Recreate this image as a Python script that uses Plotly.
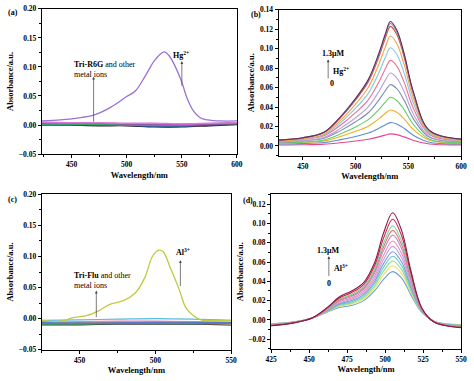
import plotly.graph_objects as go

# ---------------- data ----------------
# Panel (a)
a_hg_x = [423, 440, 455, 470, 485, 500, 508, 517, 526, 534, 539, 549, 555, 561, 567, 573, 585, 600]
a_hg_y = [0.007, 0.009, 0.012, 0.017, 0.030, 0.049, 0.059, 0.085, 0.113, 0.126, 0.118, 0.079, 0.045, 0.023, 0.012, 0.009, 0.007, 0.007]
a_ion_x = [423, 450, 475, 500, 525, 550, 575, 600]
a_ion_y = [
    [0.001, 0.000, -0.001, -0.001, -0.003, -0.003, -0.001, 0.001],
    [0.002, 0.001, 0.001, 0.000, -0.001, -0.002, 0.000, 0.002],
    [0.000, 0.001, 0.000, 0.000, -0.002, -0.002, 0.001, 0.003],
    [0.001, 0.001, 0.001, 0.000, -0.001, -0.001, 0.002, 0.004],
    [0.002, 0.002, 0.001, 0.001, 0.000, 0.000, 0.002, 0.003],
    [0.004, 0.003, 0.003, 0.002, 0.002, 0.001, 0.002, 0.003],
    [0.005, 0.004, 0.004, 0.003, 0.003, 0.002, 0.003, 0.004],
]
a_ion_colors = ["#222222", "#666666", "#333388", "#339999", "#33aa66", "#aa44bb", "#dd77dd"]

# Panel (b): Hg2+ titration
b_x = [427, 450, 470, 485, 500, 512, 522, 528, 533, 539, 546, 555, 570, 600]
b_y = [
    [0.001, 0.0012, 0.0018, 0.0032, 0.0050, 0.0068, 0.0093, 0.0111, 0.0124, 0.0116, 0.0093, 0.0056, 0.0019, 0.0011],
    [0.002, 0.0024, 0.0035, 0.0062, 0.0097, 0.0132, 0.0181, 0.0216, 0.024, 0.0225, 0.0181, 0.0108, 0.0038, 0.0022],
    [0.003, 0.0037, 0.0052, 0.0095, 0.0150, 0.0203, 0.0278, 0.0333, 0.037, 0.0346, 0.0278, 0.0166, 0.0058, 0.0033],
    [0.003, 0.0039, 0.0061, 0.0119, 0.0195, 0.0270, 0.0373, 0.0448, 0.050, 0.0467, 0.0373, 0.0218, 0.0069, 0.0034],
    [0.004, 0.0052, 0.0079, 0.0152, 0.0248, 0.0341, 0.0471, 0.0565, 0.063, 0.0589, 0.0471, 0.0276, 0.0088, 0.0045],
    [0.004, 0.0054, 0.0087, 0.0175, 0.0290, 0.0402, 0.0558, 0.0672, 0.075, 0.0700, 0.0558, 0.0324, 0.0098, 0.0046],
    [0.005, 0.0067, 0.0105, 0.0208, 0.0342, 0.0473, 0.0656, 0.0789, 0.088, 0.0822, 0.0656, 0.0382, 0.0118, 0.0057],
    [0.005, 0.0069, 0.0113, 0.0232, 0.0388, 0.0540, 0.0751, 0.0904, 0.101, 0.0943, 0.0751, 0.0434, 0.0129, 0.0058],
    [0.005, 0.0072, 0.0121, 0.0255, 0.0430, 0.0601, 0.0838, 0.1011, 0.113, 0.1054, 0.0838, 0.0482, 0.0139, 0.0059],
    [0.006, 0.0083, 0.0137, 0.0282, 0.0472, 0.0657, 0.0914, 0.1101, 0.123, 0.1148, 0.0914, 0.0528, 0.0156, 0.0069],
    [0.006, 0.0084, 0.0139, 0.0288, 0.0482, 0.0672, 0.0936, 0.1128, 0.126, 0.1176, 0.0936, 0.0540, 0.0158, 0.0070],
    [0.006, 0.0084, 0.0141, 0.0292, 0.0489, 0.0682, 0.0951, 0.1146, 0.128, 0.1195, 0.0951, 0.0548, 0.0160, 0.0070],
]
b_colors = ["#e8458b", "#5b8fd0", "#f0b020", "#66cc66", "#7f8fb0", "#b8a0d8",
            "#f07090", "#80c8e0", "#f4a050", "#e84040", "#4fa8a0", "#6a2a60"]

# Panel (c)
c_al_x = [425, 435, 440, 445, 455, 462, 470, 475, 480, 487, 493, 498, 502, 505, 510, 516, 520, 525, 530, 535, 550]
c_al_y = [-0.003, -0.005, -0.003, 0.001, 0.005, 0.012, 0.023, 0.026, 0.030, 0.042, 0.066, 0.100, 0.110, 0.108, 0.081, 0.045, 0.018, 0.005, -0.002, -0.003, -0.003]
c_ion_x = [425, 450, 475, 500, 525, 550]
c_ion_y = [
    [-0.003, -0.002, -0.001, 0.000, -0.001, -0.003],
    [-0.007, -0.007, -0.006, -0.006, -0.008, -0.011],
    [-0.006, -0.006, -0.005, -0.005, -0.006, -0.008],
    [-0.005, -0.005, -0.004, -0.004, -0.005, -0.006],
    [-0.008, -0.008, -0.007, -0.007, -0.007, -0.007],
    [-0.010, -0.010, -0.009, -0.009, -0.009, -0.008],
    [-0.009, -0.009, -0.008, -0.008, -0.008, -0.008],
    [-0.006, -0.007, -0.007, -0.006, -0.006, -0.006],
]
c_ion_colors = ["#55bbdd", "#ee5555", "#f0a040", "#f080b0", "#888888", "#333333", "#449966", "#5577cc"]

# Panel (d): Al3+ titration
d_x = [425, 440, 452, 462, 470, 478, 486, 493, 499, 505, 511, 517, 524, 532, 540, 550]
d_y = [
    [-0.004, -0.002, 0.002, 0.008, 0.013, 0.015, 0.020, 0.030, 0.042, 0.050, 0.043, 0.026, 0.008, -0.001, -0.004, -0.005],
    [-0.0042, -0.0021, 0.002, 0.0085, 0.0141, 0.0165, 0.0219, 0.0329, 0.0468, 0.0561, 0.0479, 0.0285, 0.0085, -0.0011, -0.0042, -0.0053],
    [-0.0044, -0.0022, 0.002, 0.0089, 0.0150, 0.0177, 0.0234, 0.0352, 0.0506, 0.0610, 0.0518, 0.0305, 0.0089, -0.0012, -0.0044, -0.0055],
    [-0.0045, -0.0023, 0.002, 0.0093, 0.0159, 0.0189, 0.0249, 0.0375, 0.0545, 0.0659, 0.0557, 0.0325, 0.0093, -0.0013, -0.0045, -0.0058],
    [-0.0047, -0.0023, 0.002, 0.0097, 0.0167, 0.0201, 0.0265, 0.0399, 0.0583, 0.0707, 0.0597, 0.0345, 0.0097, -0.0013, -0.0047, -0.0060],
    [-0.0049, -0.0024, 0.002, 0.0102, 0.0177, 0.0215, 0.0282, 0.0425, 0.0626, 0.0762, 0.0641, 0.0368, 0.0102, -0.0014, -0.0049, -0.0063],
    [-0.0050, -0.0025, 0.002, 0.0106, 0.0187, 0.0228, 0.0299, 0.0451, 0.0670, 0.0817, 0.0685, 0.0390, 0.0106, -0.0015, -0.0050, -0.0066],
    [-0.0052, -0.0026, 0.002, 0.0111, 0.0198, 0.0243, 0.0318, 0.0480, 0.0718, 0.0878, 0.0734, 0.0415, 0.0111, -0.0016, -0.0052, -0.0069],
    [-0.0054, -0.0027, 0.002, 0.0115, 0.0207, 0.0255, 0.0333, 0.0503, 0.0756, 0.0927, 0.0773, 0.0435, 0.0115, -0.0017, -0.0054, -0.0071],
    [-0.0056, -0.0028, 0.002, 0.0119, 0.0216, 0.0267, 0.0348, 0.0526, 0.0794, 0.0976, 0.0812, 0.0455, 0.0119, -0.0018, -0.0056, -0.0073],
    [-0.0058, -0.0029, 0.002, 0.0125, 0.0228, 0.0284, 0.0369, 0.0558, 0.0847, 0.1043, 0.0866, 0.0483, 0.0125, -0.0019, -0.0058, -0.0077],
    [-0.006, -0.003, 0.002, 0.013, 0.024, 0.030, 0.039, 0.059, 0.090, 0.111, 0.092, 0.051, 0.013, -0.002, -0.006, -0.008],
]
d_colors = ["#6a9fd0", "#eedd66", "#88dd88", "#66cccc", "#7799dd", "#c0a0e0",
            "#f08cb0", "#b890d8", "#e87070", "#66dd99", "#d02050", "#8b1a4a"]

# ---------------- figure ----------------
SERIF = "Liberation Serif"
fig = go.Figure()

def add_lines(xs, ys_list, colors, xa, ya, width=1.1):
    for ys, c in zip(ys_list, colors):
        fig.add_trace(go.Scatter(x=xs, y=ys, mode="lines", line=dict(color=c, width=width, shape="spline"),
                                 xaxis=xa, yaxis=ya, showlegend=False, hoverinfo="skip"))

add_lines(a_ion_x, a_ion_y, a_ion_colors, "x", "y", 1.6)
add_lines(a_hg_x, [a_hg_y], ["#9b72d4"], "x", "y", 1.3)
add_lines(b_x, b_y, b_colors, "x2", "y2", 1.1)
add_lines(c_ion_x, c_ion_y, c_ion_colors, "x3", "y3", 1.2)
add_lines(c_al_x, [c_al_y], ["#c0ca40"], "x3", "y3", 1.3)
add_lines(d_x, d_y, d_colors, "x4", "y4", 1.1)

tickfont = dict(family=SERIF, size=7.5, color="black", weight="bold")
titlefont = dict(family=SERIF, size=8.5, color="black", weight="bold")

def xax(dom, rng, dtick, anchor):
    return dict(domain=dom, range=rng, dtick=dtick, tick0=0, anchor=anchor,
                showline=True, linecolor="black", linewidth=1, mirror=True,
                ticks="outside", ticklen=3, tickwidth=1, tickcolor="black",
                minor=dict(ticks="outside", ticklen=2, tickcolor="black", dtick=dtick / 2),
                showgrid=False, zeroline=False, tickfont=tickfont,
                title=dict(text="Wavelength/nm", font=titlefont, standoff=3))

def yax(dom, rng, dtick, anchor):
    return dict(domain=dom, range=rng, dtick=dtick, tick0=0, anchor=anchor, tickformat=".2f",
                showline=True, linecolor="black", linewidth=1, mirror=True,
                ticks="outside", ticklen=3, tickwidth=1, tickcolor="black",
                minor=dict(ticks="outside", ticklen=2, tickcolor="black", dtick=dtick / 2),
                showgrid=False, zeroline=False, tickfont=tickfont,
                title=dict(text="Absorbance/a.u.", font=titlefont, standoff=3))

fig.update_layout(
    width=474, height=381, margin=dict(l=0, r=0, t=0, b=0),
    paper_bgcolor="white", plot_bgcolor="white", showlegend=False,
    xaxis=xax([0.0774, 0.500], [423, 600], 50, "y"),
    yaxis=yax([0.5966, 0.9869], [-0.05, 0.20], 0.05, "x"),
    xaxis2=xax([0.590, 0.985], [427, 600], 50, "y2"),
    yaxis2=yax([0.5924, 0.9843], [-0.01, 0.14], 0.02, "x2"),
    xaxis3=xax([0.0774, 0.4873], [425, 550], 50, "y3"),
    yaxis3=yax([0.0709, 0.4882], [-0.05, 0.20], 0.05, "x3"),
    xaxis4=xax([0.5738, 0.985], [425, 550], 25, "y4"),
    yaxis4=yax([0.0727, 0.4882], [-0.03, 0.13], 0.02, "x4"),
)

annfont = dict(family=SERIF, size=8, color="black")
bfont = dict(family=SERIF, size=8, color="black", weight="bold")

def arrow(xr, yr, x, y0, y1):
    fig.add_annotation(xref=xr, yref=yr, axref=xr, ayref=yr, x=x, y=y1, ax=x, ay=y0,
                       text="", showarrow=True, arrowhead=2, arrowsize=0.8, arrowwidth=0.7, arrowcolor="#444444")

def label(xr, yr, x, y, text, font=annfont, xanchor="center"):
    fig.add_annotation(xref=xr, yref=yr, x=x, y=y, text=text, showarrow=False, font=font,
                       xanchor=xanchor, yanchor="middle", align="left")

# (a)
label("x", "y", 480, 0.095, "<b>Tri-R6G</b> and other<br>metal ions")
arrow("x", "y", 470, 0.003, 0.083)
label("x", "y", 549, 0.121, "<b>Hg<sup>2+</sup></b>")
arrow("x", "y", 550, 0.065, 0.110)
# (b)
label("x2", "y2", 479, 0.0946, "1.3μM", bfont)
label("x2", "y2", 478, 0.064, "0", bfont)
label("x2", "y2", 477, 0.077, "Hg<sup>2+</sup>", bfont, "left")
arrow("x2", "y2", 474, 0.068, 0.089)
# (c)
label("x3", "y3", 465, 0.061, "<b>Tri-Flu</b> and other<br>metal ions")
arrow("x3", "y3", 461, 0.000, 0.045)
label("x3", "y3", 518, 0.108, "<b>Al<sup>3+</sup></b>")
arrow("x3", "y3", 516.5, 0.050, 0.094)
# (d)
label("x4", "y4", 463, 0.0716, "1.3μM", bfont)
label("x4", "y4", 463, 0.038, "0", bfont)
label("x4", "y4", 465, 0.054, "Al<sup>3+</sup>", bfont, "left")
arrow("x4", "y4", 463, 0.044, 0.066)

# panel letters
for txt, x, y in [("(a)", 0.0, 0.995), ("(b)", 0.525, 0.99), ("(c)", 0.0, 0.492), ("(d)", 0.508, 0.49)]:
    fig.add_annotation(xref="paper", yref="paper", x=x, y=y, text=txt, showarrow=False,
                       font=dict(family=SERIF, size=8, color="black", weight="bold"),
                       xanchor="left", yanchor="top")

fig.write_html("out.html", config={"displayModeBar": False},
               post_script="document.body.style.margin='0';document.body.style.padding='0';")
